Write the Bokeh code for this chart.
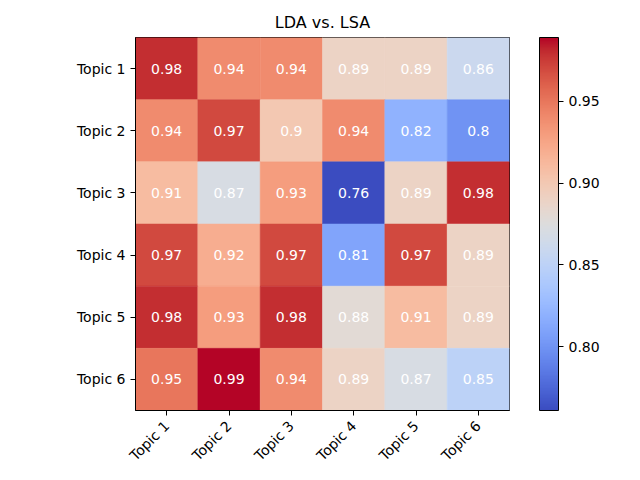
import numpy as np
from bokeh.plotting import figure
from bokeh.models import (ColumnDataSource, LinearColorMapper, ColorBar, FixedTicker,
                          FactorRange, PrintfTickFormatter)
from bokeh.transform import transform
from bokeh.embed import file_html
from bokeh.resources import INLINE
from bokeh.core.properties import value

# ---------------- data ----------------
col_labels = ["Topic 1", "Topic 2", "Topic 3", "Topic 4", "Topic 5", "Topic 6"]
row_labels = ["Topic 1", "Topic 2", "Topic 3", "Topic 4", "Topic 5", "Topic 6"]
row_1 = [0.98, 0.94, 0.94, 0.89, 0.89, 0.86]
row_2 = [0.94, 0.97, 0.9, 0.94, 0.82, 0.8]
row_3 = [0.91, 0.87, 0.93, 0.76, 0.89, 0.98]
row_4 = [0.97, 0.92, 0.97, 0.81, 0.97, 0.89]
row_5 = [0.98, 0.93, 0.98, 0.88, 0.91, 0.89]
row_6 = [0.95, 0.99, 0.94, 0.89, 0.87, 0.85]
colorbar_ticks = [0.80, 0.85, 0.90, 0.95]
title_text = "LDA vs. LSA"

rows = [row_1, row_2, row_3, row_4, row_5, row_6]

# ---------------- coolwarm palette ----------------
_cw = [
    (0.0, 0.2298057, 0.298717966, 0.753683153),
    (0.03125, 0.26623388, 0.353094838, 0.801466763),
    (0.0625, 0.30386891, 0.406535296, 0.84495867),
    (0.09375, 0.342804478, 0.458757618, 0.883725899),
    (0.125, 0.38301334, 0.50941904, 0.917387822),
    (0.15625, 0.424369608, 0.558148092, 0.945619588),
    (0.1875, 0.46666708, 0.604562568, 0.968154911),
    (0.21875, 0.509635204, 0.648280772, 0.98478814),
    (0.25, 0.552953156, 0.688929332, 0.995375608),
    (0.28125, 0.596262162, 0.726149107, 0.999836203),
    (0.3125, 0.639176211, 0.759599947, 0.998151185),
    (0.34375, 0.681291281, 0.788964712, 0.990363227),
    (0.375, 0.722193294, 0.813952739, 0.976574709),
    (0.40625, 0.761464949, 0.834302879, 0.956945269),
    (0.4375, 0.798691636, 0.849786142, 0.931688648),
    (0.46875, 0.833466556, 0.860207984, 0.901068838),
    (0.5, 0.865395197, 0.86541021, 0.865395561),
    (0.53125, 0.897787179, 0.848937047, 0.820880546),
    (0.5625, 0.924127593, 0.827384882, 0.774508472),
    (0.59375, 0.944468518, 0.800927443, 0.726736146),
    (0.625, 0.958852946, 0.769767752, 0.678007945),
    (0.65625, 0.96732803, 0.734132809, 0.628751763),
    (0.6875, 0.969954137, 0.694266682, 0.579375448),
    (0.71875, 0.966811177, 0.650421156, 0.530263762),
    (0.75, 0.958003065, 0.602842431, 0.481775914),
    (0.78125, 0.943660866, 0.551750968, 0.434243684),
    (0.8125, 0.923944917, 0.49730856, 0.387970225),
    (0.84375, 0.89904617, 0.439559467, 0.343229596),
    (0.875, 0.869186849, 0.378313092, 0.300267182),
    (0.90625, 0.834620542, 0.312874446, 0.259301199),
    (0.9375, 0.795631745, 0.24128379, 0.220525627),
    (0.96875, 0.752534934, 0.157246067, 0.184115123),
    (1.0, 0.705673158, 0.01555616, 0.150232812),
]
_pos = np.array([c[0] for c in _cw])
_t = np.linspace(0, 1, 256)
_r = np.interp(_t, _pos, [c[1] for c in _cw])
_g = np.interp(_t, _pos, [c[2] for c in _cw])
_b = np.interp(_t, _pos, [c[3] for c in _cw])
coolwarm = ["#%02x%02x%02x" % (int(round(r * 255)), int(round(g * 255)), int(round(b * 255)))
            for r, g, b in zip(_r, _g, _b)]

# ---------------- build source ----------------
xs, ys, vals, labels = [], [], [], []
for rname, rvals in zip(row_labels, rows):
    for cname, v in zip(col_labels, rvals):
        xs.append(cname)
        ys.append(rname)
        vals.append(v)
        labels.append(str(v))
source = ColumnDataSource(dict(x=xs, y=ys, v=vals, label=labels))

mapper = LinearColorMapper(palette=coolwarm, low=0.761, high=0.989)

FONT = "DejaVu Sans"

p = figure(x_range=FactorRange(factors=col_labels),
           y_range=FactorRange(factors=list(reversed(row_labels))),
           width=624, height=472,
           min_border_left=135, min_border_right=115,
           min_border_top=37, min_border_bottom=62,
           output_backend="svg", toolbar_location=None, tools="")

p.rect(x="x", y="y", width=1, height=1, source=source,
       fill_color=transform("v", mapper), line_color=transform("v", mapper), line_width=0.5)
p.text(x="x", y="y", text="label", source=source, text_color="white",
       text_align="center", text_baseline="middle", text_font=value(FONT),
       text_font_size="14px")

p.title.text = title_text
p.title.align = "center"
p.title.text_font = FONT
p.title.text_font_size = "16px"
p.title.text_font_style = "normal"
p.title.text_color = "black"
p.title.standoff = 11

p.grid.visible = False
p.outline_line_color = "black"
p.outline_line_width = 1
p.background_fill_color = "white"
p.border_fill_color = "white"

for ax in (p.xaxis[0], p.yaxis[0]):
    ax.axis_line_color = "black"
    ax.major_tick_line_color = "black"
    ax.major_tick_out = 5
    ax.major_tick_in = 0
    ax.minor_tick_line_color = None
    ax.major_label_text_font = FONT
    ax.major_label_text_font_size = "14px"
    ax.major_label_text_color = "black"
    ax.major_label_standoff = 5
p.xaxis[0].major_label_orientation = np.pi / 4
p.xaxis[0].major_label_standoff = 8

cb = ColorBar(color_mapper=mapper, width=19, height=373, padding=0, margin=0,
              location=(30, 0),
              ticker=FixedTicker(ticks=colorbar_ticks),
              formatter=PrintfTickFormatter(format="%.2f"),
              major_tick_in=0, major_tick_out=5, major_tick_line_color="black",
              bar_line_color="black", bar_line_width=1,
              major_label_text_font=FONT, major_label_text_font_size="14px",
              major_label_text_color="black", label_standoff=5,
              background_fill_color="white", border_line_color=None)
p.add_layout(cb, "right")

open("out.html", "w").write(file_html(p, INLINE))
